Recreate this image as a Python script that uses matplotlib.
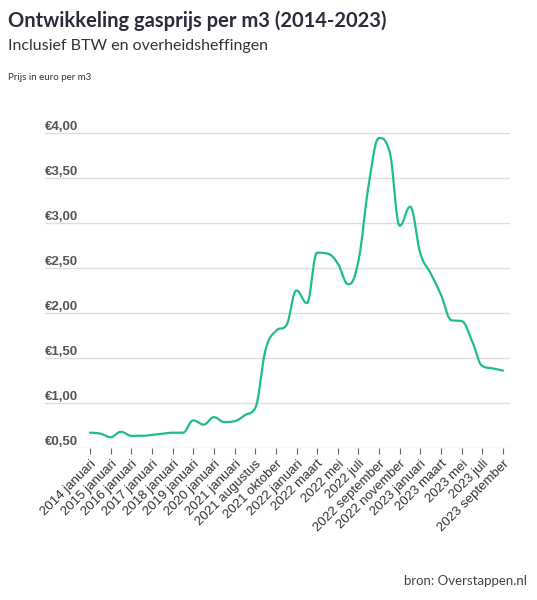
import matplotlib
matplotlib.use('Agg')
import matplotlib.pyplot as plt
import matplotlib.transforms as mtransforms
import numpy as np

# monthly / half-yearly points, only every other one gets a visible label
labels = ['2014 januari', '2014 juli', '2015 januari', '2015 juli', '2016 januari', '2016 juli',
          '2017 januari', '2017 juli', '2018 januari', '2018 juli', '2019 januari', '2019 juli',
          '2020 januari', '2020 juli', '2021 januari', '2021 april', '2021 augustus', '2021 september',
          '2021 oktober', '2021 december', '2022 januari', '2022 februari', '2022 maart', '2022 april',
          '2022 mei', '2022 juni', '2022 juli', '2022 augustus', '2022 september', '2022 oktober',
          '2022 november', '2022 december', '2023 januari', '2023 februari', '2023 maart', '2023 april',
          '2023 mei', '2023 juni', '2023 juli', '2023 augustus', '2023 september']
prices = [0.67, 0.66, 0.62, 0.68, 0.635, 0.635, 0.645, 0.66, 0.67, 0.67,
          0.807, 0.76, 0.843, 0.788, 0.798, 0.865, 0.944, 1.59, 1.80, 1.86,
          2.25, 2.11, 2.67, 2.66, 2.55, 2.32, 2.58, 3.43, 3.944, 3.80,
          2.97, 3.18, 2.66, 2.44, 2.20, 1.92, 1.91, 1.69, 1.41, 1.385, 1.36]
yticks = [0.5, 1.0, 1.5, 2.0, 2.5, 3.0, 3.5, 4.0]

green = '#1dbf85'


def spline(x, y, n=30):
    # highcharts-like spline with smoothing 1.5
    x = np.asarray(x, float)
    y = np.asarray(y, float)
    m = len(x)
    lx, ly, rx, ry = x.copy(), y.copy(), x.copy(), y.copy()
    for i in range(1, m - 1):
        lcx = (1.5 * x[i] + x[i - 1]) / 2.5
        lcy = (1.5 * y[i] + y[i - 1]) / 2.5
        rcx = (1.5 * x[i] + x[i + 1]) / 2.5
        rcy = (1.5 * y[i] + y[i + 1]) / 2.5
        corr = (rcy - lcy) * (rcx - x[i]) / (rcx - lcx) + y[i] - rcy
        lcy += corr
        rcy += corr
        if lcy > max(y[i - 1], y[i]):
            lcy = max(y[i - 1], y[i]); rcy = 2 * y[i] - lcy
        elif lcy < min(y[i - 1], y[i]):
            lcy = min(y[i - 1], y[i]); rcy = 2 * y[i] - lcy
        if rcy > max(y[i + 1], y[i]):
            rcy = max(y[i + 1], y[i]); lcy = 2 * y[i] - rcy
        elif rcy < min(y[i + 1], y[i]):
            rcy = min(y[i + 1], y[i]); lcy = 2 * y[i] - rcy
        lx[i], ly[i], rx[i], ry[i] = lcx, lcy, rcx, rcy
    t = np.linspace(0, 1, n)[:, None]
    xs, ys = [], []
    for i in range(m - 1):
        P = np.array([[x[i], y[i]], [rx[i], ry[i]], [lx[i + 1], ly[i + 1]], [x[i + 1], y[i + 1]]])
        B = ((1 - t) ** 3) * P[0] + 3 * ((1 - t) ** 2) * t * P[1] + 3 * (1 - t) * t ** 2 * P[2] + t ** 3 * P[3]
        xs.append(B[:, 0]); ys.append(B[:, 1])
    return np.concatenate(xs), np.concatenate(ys)


fig = plt.figure(figsize=(5.37, 6.0), dpi=100)
ax = fig.add_axes([45 / 537, 1 - 448 / 600, 465 / 537, 315 / 600])

idx = np.arange(len(prices))
sx, sy = spline(idx, prices)
ax.plot(sx, sy, color=green, lw=1.6, solid_capstyle='round', clip_on=False, zorder=3)

step = 40 / 413.0
ax.set_xlim(-45 * step, 40 + 7 * step)
ax.set_ylim(0.5, 4.0)

for s in ax.spines.values():
    s.set_visible(False)
ax.set_yticks(yticks)
ax.yaxis.grid(True, color='#dddddd', lw=1)
ax.tick_params(axis='y', length=0, labelleft=False)
ax.set_axisbelow(True)

# y labels sit on top of their gridlines, left aligned
trans = mtransforms.blended_transform_factory(ax.transAxes, ax.transData)
for v in yticks:
    ax.text(0, v, '€' + f'{v:.2f}'.replace('.', ','), transform=trans, ha='left', va='bottom',
            fontsize=9.5, color='#555555', fontweight='bold', family='Liberation Sans')

ax.set_xticks(idx[::2])
ax.set_xticklabels(labels[::2], rotation=45, ha='right', rotation_mode='anchor',
                   fontsize=9.5, color='#333333', family='Liberation Sans')
ax.tick_params(axis='x', length=4, width=0.8, color='#666666', pad=3)

fig.text(8 / 537, 1 - 21 / 600, 'Ontwikkeling gasprijs per m3 (2014-2023)', fontsize=14.5,
         fontweight='bold', color='#2a2c3a', family='Lato', va='center')
fig.text(8 / 537, 1 - 46 / 600, 'Inclusief BTW en overheidsheffingen', fontsize=11.5,
         color='#333333', family='Lato', va='center')
fig.text(8 / 537, 1 - 77 / 600, 'Prijs in euro per m3', fontsize=7, color='#333333',
         family='Lato', va='center')
fig.text(527 / 537, 1 - 581 / 600, 'bron: Overstappen.nl', fontsize=9.5, color='#444444',
         family='Lato', ha='right', va='center')

plt.savefig('out.png', dpi=100)
